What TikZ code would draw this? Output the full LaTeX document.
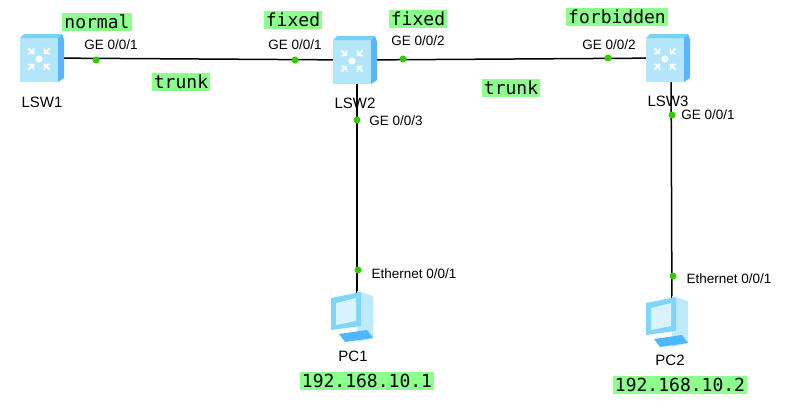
\documentclass[tikz,border=0pt]{standalone}
\usepackage{fontspec}
\setmainfont{Liberation Sans}
\newfontfamily\monof{DejaVu Sans Mono}
\begin{document}
\begin{tikzpicture}[x=1pt,y=-1pt,
  tag/.style={fill=green!45!white,font=\monof\fontsize{18}{18}\selectfont,inner sep=2pt},
  port/.style={font=\fontsize{13.5}{13.5}\selectfont,inner sep=0pt},
  dev/.style={font=\fontsize{15}{15}\selectfont,inner sep=0pt},
  dot/.style={circle,fill=green!70!lime!80!black,inner sep=0pt,minimum size=7pt},
  link/.style={line width=1.5pt}]
\useasboundingbox (0,0) rectangle (797,407);
\newcommand{\switchicon}[2]{%
 \begin{scope}[shift={(#1,#2)}]
  \fill[cyan!30!white] (-22,-20) rectangle (16,24);
  \fill[cyan!55!white] (-22,-20) -- (-18,-24) -- (20,-24) -- (16,-20) -- cycle;
  \fill[blue!45!cyan!65!white] (16,-20) -- (20,-24) -- (22,-18) -- (22,20) -- (16,24) -- cycle;
  \fill[white] (-3,1) circle (3.5);
  \foreach \a in {45,135,225,315}{\draw[white,line width=2pt,->] ([shift={(-3,1)}]\a:15) -- ([shift={(-3,1)}]\a:7);}
 \end{scope}}
\newcommand{\pcicon}[2]{%
 \begin{scope}[shift={(#1,#2)}]
  \fill[cyan!25!white] (2,-25) -- (18,-20) -- (18,22) -- (2,26) -- cycle;
  \fill[cyan!50!white] (-24,-18) -- (6,-24) -- (6,10) -- (-24,14) -- cycle;
  \fill[cyan!15!white] (-19,-13) -- (1,-18) -- (1,5) -- (-19,9) -- cycle;
  \fill[blue!40!cyan!70!white] (-16,18) -- (12,14) -- (18,22) -- (-10,26) -- cycle;
 \end{scope}}
\coordinate (s1) at (42,58);
\coordinate (s2) at (357,60);
\coordinate (s3) at (671,58);
\coordinate (p1) at (357,316);
\coordinate (p2) at (672,320);
\draw[link] (s1) -- (s2) -- (s3);
\draw[link] (s2) -- (p1);
\draw[link] (s3) -- (p2);
\switchicon{42}{58}
\switchicon{355}{60}
\switchicon{668}{58}
\pcicon{355}{316}
\pcicon{670}{321}
\node[dot] (d1) at (96,60) {};
\node[dot] (d2) at (295,60) {};
\node[dot] (d3) at (403,59) {};
\node[dot] (d4) at (608,58) {};
\node[dot] (d5) at (357,120) {};
\node[dot] (d6) at (358,270) {};
\node[dot] (d7) at (672,115) {};
\node[dot] (d8) at (673,276) {};
\node[port] (g1) at (111,45) {GE 0/0/1};
\node[port] (g2) at (295,45) {GE 0/0/1};
\node[port] (g3) at (418,41) {GE 0/0/2};
\node[port] (g4) at (609,45) {GE 0/0/2};
\node[port] (g5) at (396,121) {GE 0/0/3};
\node[port] (g6) at (708,115) {GE 0/0/1};
\node[port] (g7) at (414,274) {Ethernet 0/0/1};
\node[port] (g8) at (729,279) {Ethernet 0/0/1};
\node[dev] (l1) at (42,102) {LSW1};
\node[dev] (l2) at (355,103) {LSW2};
\node[dev] (l3) at (668,101) {LSW3};
\node[dev] (l4) at (353,356) {PC1};
\node[dev] (l5) at (670,360) {PC2};
\node[tag] (t1) at (97,22) {normal};
\node[tag] (t2) at (293,20) {fixed};
\node[tag] (t3) at (418,19) {fixed};
\node[tag] (t4) at (617,17) {forbidden};
\node[tag] (t5) at (181,82) {trunk};
\node[tag] (t6) at (511,88) {trunk};
\node[tag] (t7) at (367,381) {192.168.10.1};
\node[tag] (t8) at (680,385) {192.168.10.2};
\end{tikzpicture}
\end{document}
